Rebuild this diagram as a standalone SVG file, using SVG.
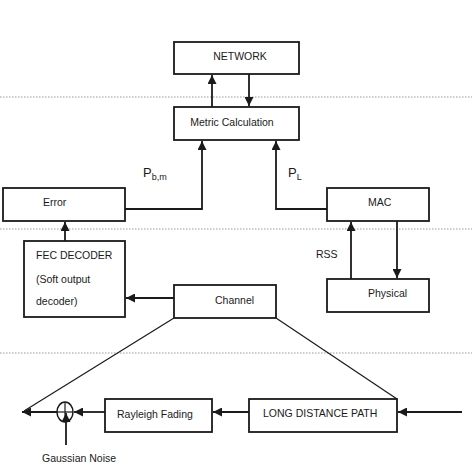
<svg xmlns="http://www.w3.org/2000/svg" width="474" height="474" viewBox="0 0 474 474">
<style>
.box{fill:#fff;stroke:#1a1a1a;stroke-width:1.8}
.t{font-family:"Liberation Sans",Arial,sans-serif;font-size:10.5px;fill:#1a1a1a}
.ln{fill:none;stroke:#1a1a1a;stroke-width:1.8}
.thin{fill:none;stroke:#1a1a1a;stroke-width:1.2}
.dot{stroke:#999;stroke-width:1.2;stroke-dasharray:1.5 1.5}
</style>
<defs>
<marker id="ah" viewBox="0 0 10 10" refX="10" refY="5" markerWidth="5" markerHeight="5" orient="auto" markerUnits="strokeWidth">
<path d="M0,0 L10,5 L0,10 z" fill="#1a1a1a"/>
</marker>
</defs>
<rect width="474" height="474" fill="#fff"/>
<g id="separators">
<line class="dot" x1="0" y1="97" x2="472" y2="97"/>
<line class="dot" x1="0" y1="229" x2="472" y2="229"/>
<line class="dot" x1="0" y1="353" x2="472" y2="353"/>
</g>
<g id="connectors">
<line class="ln" x1="212" y1="107" x2="212" y2="75" marker-end="url(#ah)"/>
<line class="ln" x1="249" y1="74" x2="249" y2="106" marker-end="url(#ah)"/>
<polyline class="ln" points="125,209 202,209 202,141" marker-end="url(#ah)"/>
<polyline class="ln" points="327,209 276,209 276,141" marker-end="url(#ah)"/>
<line class="ln" x1="65" y1="241" x2="65" y2="222" marker-end="url(#ah)"/>
<line class="ln" x1="174" y1="298" x2="126" y2="298" marker-end="url(#ah)"/>
<line class="ln" x1="351" y1="279" x2="351" y2="222" marker-end="url(#ah)"/>
<line class="ln" x1="397" y1="221" x2="397" y2="278" marker-end="url(#ah)"/>
<line class="thin" x1="174" y1="318" x2="24" y2="411"/>
<line class="thin" x1="276" y1="318" x2="397" y2="399"/>
<line class="ln" x1="462" y1="412" x2="398" y2="412" marker-end="url(#ah)"/>
<line class="ln" x1="249" y1="412" x2="213" y2="412" marker-end="url(#ah)"/>
<line class="ln" x1="105" y1="412" x2="74" y2="412" marker-end="url(#ah)"/>
<line class="ln" x1="57" y1="412" x2="22" y2="412" marker-end="url(#ah)"/>
<line class="ln" x1="66" y1="445" x2="66" y2="413" marker-end="url(#ah)"/>
</g>
<g id="network"><rect class="box" x="174" y="42" width="125" height="32"/><text class="t" x="240" y="60" text-anchor="middle">NETWORK</text></g>
<g id="metric"><rect class="box" x="174" y="107" width="125" height="33"/><text class="t" x="232" y="126" text-anchor="middle">Metric Calculation</text></g>
<g id="error"><rect class="box" x="3" y="188" width="122" height="33"/><text class="t" x="43" y="206">Error</text></g>
<g id="mac"><rect class="box" x="327" y="188" width="102" height="33"/><text class="t" x="368" y="206">MAC</text></g>
<g id="fec"><rect class="box" x="24" y="241" width="101" height="76"/>
<text class="t" x="36" y="259">FEC DECODER</text>
<text class="t" x="36" y="283">(Soft output</text>
<text class="t" x="36" y="305">decoder)</text></g>
<g id="channel"><rect class="box" x="174" y="285" width="102" height="33"/><text class="t" x="215" y="304">Channel</text></g>
<g id="physical"><rect class="box" x="327" y="279" width="102" height="33"/><text class="t" x="368" y="297">Physical</text></g>
<g id="rayleigh"><rect class="box" x="105" y="399" width="107" height="33"/><text class="t" x="117" y="418">Rayleigh Fading</text></g>
<g id="ldp"><rect class="box" x="249" y="399" width="148" height="33"/><text class="t" x="263" y="417">LONG DISTANCE PATH</text></g>
<g id="adder">
<ellipse cx="65" cy="412" rx="8" ry="10" fill="none" stroke="#1a1a1a" stroke-width="1.5"/>
<line class="thin" x1="57" y1="412" x2="73" y2="412"/>
<line class="thin" x1="65" y1="402" x2="65" y2="422"/>
</g>
<g id="labels">
<text class="t" x="42" y="462">Gaussian Noise</text>
<text class="t" x="316" y="258">RSS</text>
<text class="t" x="143" y="177" style="font-size:13px">P<tspan dy="3" style="font-size:9px">b,m</tspan></text>
<text class="t" x="288" y="177" style="font-size:13px">P<tspan dy="3" style="font-size:9px">L</tspan></text>
</g>
</svg>
